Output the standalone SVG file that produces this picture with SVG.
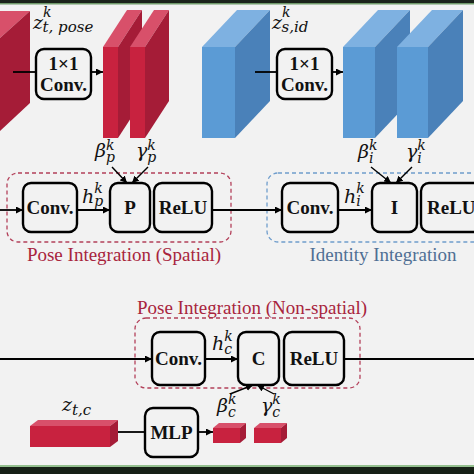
<svg xmlns="http://www.w3.org/2000/svg" width="474" height="474" viewBox="0 0 474 474">
<defs>
<style>
.box{fill:none;stroke:#000;stroke-width:2.4}
.lbl{font-family:"Liberation Serif","Times New Roman",serif;font-weight:bold;font-size:19px;fill:#111;text-anchor:middle}
.m{font-family:"DejaVu Serif",serif;font-style:italic;fill:#111;font-size:19px}
.sm{font-size:14px}
.sb{font-size:15px}
.ln{stroke:#000;stroke-width:1.8;fill:none}
.thin{stroke:#000;stroke-width:1.4;fill:none}
.dr{fill:none;stroke:#b3405a;stroke-width:1.3;stroke-dasharray:4 3}
.db{fill:none;stroke:#6f9dcc;stroke-width:1.3;stroke-dasharray:4 3}
.tr{font-family:"Liberation Serif","Times New Roman",serif;font-size:19px;fill:#a8243d;text-anchor:middle}
.tb{font-family:"Liberation Serif","Times New Roman",serif;font-size:19px;fill:#4f6f94;text-anchor:middle}
.rf{fill:#c8223f}.rs{fill:#a51c37}.rt{fill:#d8506a}
.bf{fill:#5b9bd5}.bs{fill:#4a81b9}.bt{fill:#7eb1e1}
</style>
<marker id="ah" viewBox="0 0 10 10" refX="10" refY="5" markerWidth="7" markerHeight="7" markerUnits="userSpaceOnUse" orient="auto">
<path d="M0,0 L10,5 L0,10 z" fill="#000"/>
</marker>
</defs>
<rect x="0" y="0" width="474" height="474" fill="#f2f2f2"/>
<rect x="0" y="0" width="474" height="3" fill="#1b241b"/>
<rect x="0" y="3" width="474" height="1.5" fill="#6f9a6a"/>
<rect x="0" y="465" width="474" height="2" fill="#93bf8e"/>
<rect x="0" y="467" width="474" height="7" fill="#162016"/>

<!-- top red feature block -->
<g id="z-pose-block">
<polygon class="rt" points="-20,38 0,38 30,11 -10,11"/>
<polygon class="rs" points="0,38 30,11 30,103 0,131"/>
</g>
<g id="z-pose-label">
<text class="m" x="33" y="29">z<tspan class="sm" dy="-12">k</tspan><tspan class="sb" dx="-9" dy="15">t, pose</tspan></text>
</g>
<g id="conv1x1-pose">
<rect class="box" x="36" y="49" width="55" height="50" rx="8"/>
<text class="lbl" x="63.5" y="70">1×1</text>
<text class="lbl" x="63.5" y="91">Conv.</text>
</g>
<g id="beta-p-plate">
<polygon class="rt" points="103,47 118,47 142,10 127,10"/>
<polygon class="rs" points="118,47 142,10 142,101 118,138"/>
<rect class="rf" x="103" y="47" width="15" height="91"/>
</g>
<g id="gamma-p-plate">
<polygon class="rt" points="130,47 145,47 169,10 154,10"/>
<polygon class="rs" points="145,47 169,10 169,101 145,138"/>
<rect class="rf" x="130" y="47" width="15" height="91"/>
</g>

<!-- top blue -->
<g id="z-id-block">
<polygon class="bt" points="202,47 235,47 270,10 237,10"/>
<polygon class="bs" points="235,47 270,10 270,101 235,138"/>
<rect class="bf" x="202" y="47" width="33" height="91"/>
</g>
<g id="z-id-label">
<text class="m" x="272" y="29">z<tspan class="sm" dy="-12">k</tspan><tspan class="sb" dx="-9" dy="15">s,id</tspan></text>
</g>
<g id="conv1x1-id">
<rect class="box" x="277" y="49" width="55" height="50" rx="8"/>
<text class="lbl" x="304.5" y="70">1×1</text>
<text class="lbl" x="304.5" y="91">Conv.</text>
</g>
<g id="beta-i-plate">
<polygon class="bt" points="343,47 375,47 410,10 378,10"/>
<polygon class="bs" points="375,47 410,10 410,101 375,138"/>
<rect class="bf" x="343" y="47" width="32" height="91"/>
</g>
<g id="gamma-i-plate">
<polygon class="bt" points="397,47 428,47 463,10 432,10"/>
<polygon class="bs" points="428,47 463,10 463,101 428,138"/>
<rect class="bf" x="397" y="47" width="31" height="91"/>
</g>

<!-- row 2 -->
<g id="pose-spatial">
<rect class="dr" x="7" y="173" width="224" height="69" rx="11"/>
<text class="tr" x="124" y="261">Pose Integration (Spatial)</text>
</g>
<g id="conv-p">
<rect class="box" x="23" y="183" width="54" height="49" rx="8"/>
<text class="lbl" x="50" y="214">Conv.</text>
</g>
<g id="P">
<rect class="box" x="110" y="183" width="40" height="49" rx="8"/>
<text class="lbl" x="130" y="214">P</text>
</g>
<g id="relu-p">
<rect class="box" x="154" y="183" width="58" height="49" rx="8"/>
<text class="lbl" x="183" y="214">ReLU</text>
</g>
<g id="beta-p-label">
<text class="m" x="95" y="157">β<tspan class="sm" dy="-7">k</tspan><tspan class="sm" dx="-8.5" dy="12">p</tspan></text>
</g>
<g id="gamma-p-label">
<text class="m" x="136" y="157">γ<tspan class="sm" dy="-7">k</tspan><tspan class="sm" dx="-8.5" dy="12">p</tspan></text>
</g>
<g id="h-p-label">
<text class="m" x="82" y="203">h<tspan class="sm" dy="-10">k</tspan><tspan class="sm" dx="-8.5" dy="13">p</tspan></text>
</g>

<g id="identity">
<rect class="db" x="267" y="173" width="230" height="69" rx="11"/>
<text class="tb" x="383" y="261">Identity Integration</text>
</g>
<g id="conv-i">
<rect class="box" x="282" y="183" width="56" height="49" rx="8"/>
<text class="lbl" x="310" y="214">Conv.</text>
</g>
<g id="I">
<rect class="box" x="372" y="183" width="45" height="49" rx="8"/>
<text class="lbl" x="394.5" y="214">I</text>
</g>
<g id="relu-i">
<rect class="box" x="421" y="183" width="60" height="49" rx="8"/>
<text class="lbl" x="427" y="214" style="text-anchor:start">ReLU</text>
</g>
<g id="beta-i-label">
<text class="m" x="358" y="158">β<tspan class="sm" dy="-8">k</tspan><tspan class="sm" dx="-8.5" dy="13">i</tspan></text>
</g>
<g id="gamma-i-label">
<text class="m" x="406" y="158">γ<tspan class="sm" dy="-8">k</tspan><tspan class="sm" dx="-8.5" dy="13">i</tspan></text>
</g>
<g id="h-i-label">
<text class="m" x="344" y="203">h<tspan class="sm" dy="-10">k</tspan><tspan class="sm" dx="-8.5" dy="13">i</tspan></text>
</g>

<!-- row 3 -->
<g id="pose-nonspatial">
<rect class="dr" x="135" y="318" width="225" height="70" rx="11"/>
<text class="tr" x="252" y="314">Pose Integration (Non-spatial)</text>
</g>
<g id="conv-c">
<rect class="box" x="152" y="332" width="53" height="53" rx="8"/>
<text class="lbl" x="178.5" y="365">Conv.</text>
</g>
<g id="C">
<rect class="box" x="238" y="332" width="41" height="53" rx="8"/>
<text class="lbl" x="258.5" y="365">C</text>
</g>
<g id="relu-c">
<rect class="box" x="284" y="332" width="60" height="53" rx="8"/>
<text class="lbl" x="314" y="365">ReLU</text>
</g>
<g id="h-c-label">
<text class="m" x="212" y="350">h<tspan class="sm" dy="-9">k</tspan><tspan class="sm" dx="-8.5" dy="13">c</tspan></text>
</g>
<g id="beta-c-label">
<text class="m" x="217" y="412">β<tspan class="sm" dy="-8">k</tspan><tspan class="sm" dx="-8.5" dy="13">c</tspan></text>
</g>
<g id="gamma-c-label">
<text class="m" x="261" y="412">γ<tspan class="sm" dy="-8">k</tspan><tspan class="sm" dx="-8.5" dy="13">c</tspan></text>
</g>
<g id="z-c-label">
<text class="m" x="62" y="411">z<tspan class="sb" dy="4">t,c</tspan></text>
</g>
<g id="z-c-block">
<polygon class="rt" points="30,426 110,426 118,420 38,420"/>
<polygon class="rs" points="110,426 118,420 118,441 110,447"/>
<rect class="rf" x="30" y="426" width="80" height="21"/>
</g>
<g id="MLP">
<rect class="box" x="145" y="408" width="53" height="49" rx="8"/>
<text class="lbl" x="171.5" y="439">MLP</text>
</g>
<g id="beta-c-box">
<polygon class="rt" points="213,428 240,428 246,423 219,423"/>
<polygon class="rs" points="240,428 246,423 246,438 240,443"/>
<rect class="rf" x="213" y="428" width="27" height="15"/>
</g>
<g id="gamma-c-box">
<polygon class="rt" points="254,428 281,428 287,423 260,423"/>
<polygon class="rs" points="281,428 287,423 287,438 281,443"/>
<rect class="rf" x="254" y="428" width="27" height="15"/>
</g>

<g id="connectors">
<line class="ln" x1="13" y1="72" x2="36" y2="72"/>
<line class="ln" x1="91" y1="72" x2="103" y2="72" marker-end="url(#ah)"/>
<line class="ln" x1="255" y1="72" x2="277" y2="72"/>
<line class="ln" x1="332" y1="72" x2="343" y2="72" marker-end="url(#ah)"/>

<line class="ln" x1="0" y1="210" x2="23" y2="210" marker-end="url(#ah)"/>
<line class="ln" x1="77" y1="210" x2="110" y2="210" marker-end="url(#ah)"/>
<line class="ln" x1="212" y1="210" x2="282" y2="210" marker-end="url(#ah)"/>
<line class="ln" x1="338" y1="210" x2="372" y2="210" marker-end="url(#ah)"/>
<line class="thin" x1="112" y1="167" x2="127" y2="183" marker-end="url(#ah)"/>
<line class="thin" x1="148" y1="167" x2="132" y2="183" marker-end="url(#ah)"/>
<line class="thin" x1="371" y1="167" x2="391" y2="183" marker-end="url(#ah)"/>
<line class="thin" x1="412" y1="167" x2="396" y2="183" marker-end="url(#ah)"/>

<line class="ln" x1="0" y1="359" x2="152" y2="359" marker-end="url(#ah)"/>
<line class="ln" x1="205" y1="359" x2="238" y2="359" marker-end="url(#ah)"/>
<line class="ln" x1="344" y1="359" x2="474" y2="359"/>
<line class="thin" x1="230" y1="394" x2="253" y2="385" marker-end="url(#ah)"/>
<line class="thin" x1="274" y1="394" x2="257" y2="385" marker-end="url(#ah)"/>
<line class="ln" x1="118" y1="432" x2="145" y2="432"/>
<line class="ln" x1="198" y1="432" x2="213" y2="432" marker-end="url(#ah)"/>
</g>
</svg>
